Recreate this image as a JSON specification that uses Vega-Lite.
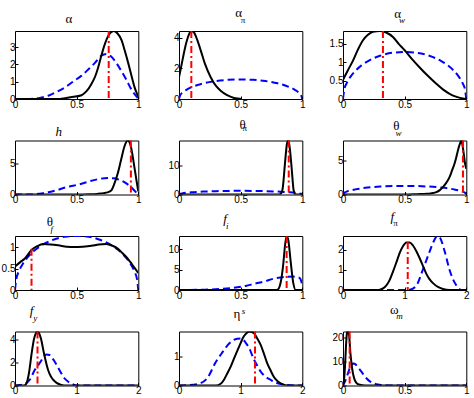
{
"$schema": "https://vega.github.io/schema/vega-lite/v6.json",
"background": "white",
"padding": {"left": 0, "top": 6, "right": 0, "bottom": 0},
"autosize": {"type": "pad"},
"config": {
 "view": {"stroke": "#000", "strokeWidth": 1},
 "axis": {"domain": false, "grid": false, "labelFont": "Liberation Sans", "labelFontSize": 10, "labelColor": "black", "tickColor": "black", "tickSize": -3, "labelPadding": 3, "labelFlush": false, "labelOverlap": false, "title": null},
 "title": {"font": "Liberation Serif", "fontSize": 13, "fontWeight": "normal", "color": "black", "subtitleFont": "Liberation Serif", "subtitleFontSize": 9, "subtitleFontWeight": "normal", "subtitleColor": "black", "anchor": "middle"}
},
"datasets": {
 "modes": [
  {"p": "a", "x": 0.76, "top": 3.93},
  {"p": "api", "x": 0.1, "top": 4.43},
  {"p": "aw", "x": 0.324, "top": 1.84},
  {"p": "h", "x": 0.94, "top": 8.7},
  {"p": "tpi", "x": 0.89, "top": 18.8},
  {"p": "tw", "x": 0.973, "top": 8.0},
  {"p": "tf", "x": 0.134, "top": 0.97},
  {"p": "fi", "x": 0.873, "top": 13.3},
  {"p": "fpi", "x": 1.05, "top": 2.37},
  {"p": "fy", "x": 0.365, "top": 4.7},
  {"p": "eta", "x": 1.233, "top": 1.86},
  {"p": "om", "x": 0.054, "top": 22.3}
 ],
 "curves": [
  {"p":"a","s":"pr","x":0,"y":0},{"p":"a","s":"pr","x":0.1,"y":0},{"p":"a","s":"pr","x":0.15,"y":0.02},{"p":"a","s":"pr","x":0.2,"y":0.06},{"p":"a","s":"pr","x":0.27,"y":0.19},{"p":"a","s":"pr","x":0.34,"y":0.42},{"p":"a","s":"pr","x":0.405,"y":0.67},{"p":"a","s":"pr","x":0.47,"y":1.0},{"p":"a","s":"pr","x":0.54,"y":1.35},{"p":"a","s":"pr","x":0.6,"y":1.75},{"p":"a","s":"pr","x":0.65,"y":2.1},{"p":"a","s":"pr","x":0.7,"y":2.5},{"p":"a","s":"pr","x":0.74,"y":2.6},{"p":"a","s":"pr","x":0.78,"y":2.45},{"p":"a","s":"pr","x":0.82,"y":2.1},{"p":"a","s":"pr","x":0.86,"y":1.65},{"p":"a","s":"pr","x":0.9,"y":1.15},{"p":"a","s":"pr","x":0.94,"y":0.6},{"p":"a","s":"pr","x":0.97,"y":0.28},{"p":"a","s":"pr","x":1,"y":0.03},
  {"p":"a","s":"po","x":0,"y":0},{"p":"a","s":"po","x":0.35,"y":0},{"p":"a","s":"po","x":0.405,"y":0.05},{"p":"a","s":"po","x":0.45,"y":0.1},{"p":"a","s":"po","x":0.54,"y":0.22},{"p":"a","s":"po","x":0.58,"y":0.45},{"p":"a","s":"po","x":0.62,"y":0.87},{"p":"a","s":"po","x":0.65,"y":1.3},{"p":"a","s":"po","x":0.675,"y":1.84},{"p":"a","s":"po","x":0.7,"y":2.5},{"p":"a","s":"po","x":0.73,"y":3.2},{"p":"a","s":"po","x":0.76,"y":3.7},{"p":"a","s":"po","x":0.8,"y":3.93},{"p":"a","s":"po","x":0.83,"y":3.8},{"p":"a","s":"po","x":0.865,"y":3.39},{"p":"a","s":"po","x":0.89,"y":2.8},{"p":"a","s":"po","x":0.92,"y":2.03},{"p":"a","s":"po","x":0.95,"y":1.2},{"p":"a","s":"po","x":0.97,"y":0.67},{"p":"a","s":"po","x":0.99,"y":0.3},{"p":"a","s":"po","x":1,"y":0.15},
  {"p":"api","s":"pr","x":0,"y":0},{"p":"api","s":"pr","x":0.01,"y":0.25},{"p":"api","s":"pr","x":0.03,"y":0.43},{"p":"api","s":"pr","x":0.06,"y":0.6},{"p":"api","s":"pr","x":0.1,"y":0.76},{"p":"api","s":"pr","x":0.15,"y":0.91},{"p":"api","s":"pr","x":0.2,"y":1.02},{"p":"api","s":"pr","x":0.3,"y":1.17},{"p":"api","s":"pr","x":0.4,"y":1.25},{"p":"api","s":"pr","x":0.5,"y":1.27},{"p":"api","s":"pr","x":0.6,"y":1.25},{"p":"api","s":"pr","x":0.7,"y":1.17},{"p":"api","s":"pr","x":0.8,"y":1.02},{"p":"api","s":"pr","x":0.85,"y":0.91},{"p":"api","s":"pr","x":0.9,"y":0.76},{"p":"api","s":"pr","x":0.94,"y":0.6},{"p":"api","s":"pr","x":0.97,"y":0.43},{"p":"api","s":"pr","x":0.99,"y":0.25},{"p":"api","s":"pr","x":1,"y":0},
  {"p":"api","s":"po","x":0,"y":1.42},{"p":"api","s":"po","x":0.02,"y":2.2},{"p":"api","s":"po","x":0.04,"y":3.0},{"p":"api","s":"po","x":0.06,"y":3.7},{"p":"api","s":"po","x":0.08,"y":4.2},{"p":"api","s":"po","x":0.1,"y":4.43},{"p":"api","s":"po","x":0.12,"y":4.35},{"p":"api","s":"po","x":0.15,"y":3.8},{"p":"api","s":"po","x":0.176,"y":3.17},{"p":"api","s":"po","x":0.21,"y":2.3},{"p":"api","s":"po","x":0.257,"y":1.42},{"p":"api","s":"po","x":0.3,"y":0.85},{"p":"api","s":"po","x":0.338,"y":0.54},{"p":"api","s":"po","x":0.39,"y":0.25},{"p":"api","s":"po","x":0.446,"y":0.07},{"p":"api","s":"po","x":0.51,"y":0},
  {"p":"aw","s":"pr","x":0,"y":0},{"p":"aw","s":"pr","x":0.01,"y":0.25},{"p":"aw","s":"pr","x":0.03,"y":0.43},{"p":"aw","s":"pr","x":0.06,"y":0.6},{"p":"aw","s":"pr","x":0.1,"y":0.76},{"p":"aw","s":"pr","x":0.15,"y":0.91},{"p":"aw","s":"pr","x":0.2,"y":1.02},{"p":"aw","s":"pr","x":0.3,"y":1.17},{"p":"aw","s":"pr","x":0.4,"y":1.25},{"p":"aw","s":"pr","x":0.5,"y":1.27},{"p":"aw","s":"pr","x":0.6,"y":1.25},{"p":"aw","s":"pr","x":0.7,"y":1.17},{"p":"aw","s":"pr","x":0.8,"y":1.02},{"p":"aw","s":"pr","x":0.85,"y":0.91},{"p":"aw","s":"pr","x":0.9,"y":0.76},{"p":"aw","s":"pr","x":0.94,"y":0.6},{"p":"aw","s":"pr","x":0.97,"y":0.43},{"p":"aw","s":"pr","x":0.99,"y":0.25},{"p":"aw","s":"pr","x":1,"y":0},
  {"p":"aw","s":"po","x":0,"y":0.52},{"p":"aw","s":"po","x":0.04,"y":0.78},{"p":"aw","s":"po","x":0.081,"y":1.04},{"p":"aw","s":"po","x":0.12,"y":1.33},{"p":"aw","s":"po","x":0.162,"y":1.59},{"p":"aw","s":"po","x":0.2,"y":1.73},{"p":"aw","s":"po","x":0.243,"y":1.82},{"p":"aw","s":"po","x":0.3,"y":1.84},{"p":"aw","s":"po","x":0.35,"y":1.8},{"p":"aw","s":"po","x":0.405,"y":1.68},{"p":"aw","s":"po","x":0.45,"y":1.5},{"p":"aw","s":"po","x":0.5,"y":1.32},{"p":"aw","s":"po","x":0.56,"y":1.08},{"p":"aw","s":"po","x":0.62,"y":0.86},{"p":"aw","s":"po","x":0.69,"y":0.62},{"p":"aw","s":"po","x":0.757,"y":0.41},{"p":"aw","s":"po","x":0.81,"y":0.26},{"p":"aw","s":"po","x":0.865,"y":0.14},{"p":"aw","s":"po","x":0.91,"y":0.07},{"p":"aw","s":"po","x":0.95,"y":0.03},{"p":"aw","s":"po","x":1,"y":0},
  {"p":"h","s":"pr","x":0,"y":0},{"p":"h","s":"pr","x":0.135,"y":0},{"p":"h","s":"pr","x":0.2,"y":0.12},{"p":"h","s":"pr","x":0.27,"y":0.37},{"p":"h","s":"pr","x":0.34,"y":0.7},{"p":"h","s":"pr","x":0.4,"y":1.1},{"p":"h","s":"pr","x":0.47,"y":1.4},{"p":"h","s":"pr","x":0.54,"y":1.74},{"p":"h","s":"pr","x":0.6,"y":2.1},{"p":"h","s":"pr","x":0.67,"y":2.45},{"p":"h","s":"pr","x":0.75,"y":2.66},{"p":"h","s":"pr","x":0.8,"y":2.6},{"p":"h","s":"pr","x":0.833,"y":2.45},{"p":"h","s":"pr","x":0.887,"y":2.0},{"p":"h","s":"pr","x":0.94,"y":1.2},{"p":"h","s":"pr","x":0.97,"y":0.6},{"p":"h","s":"pr","x":0.995,"y":0.1},{"p":"h","s":"pr","x":1,"y":0},
  {"p":"h","s":"po","x":0,"y":0},{"p":"h","s":"po","x":0.5,"y":0},{"p":"h","s":"po","x":0.6,"y":0.03},{"p":"h","s":"po","x":0.67,"y":0.1},{"p":"h","s":"po","x":0.72,"y":0.22},{"p":"h","s":"po","x":0.75,"y":0.35},{"p":"h","s":"po","x":0.78,"y":0.65},{"p":"h","s":"po","x":0.806,"y":1.74},{"p":"h","s":"po","x":0.833,"y":3.37},{"p":"h","s":"po","x":0.86,"y":5.55},{"p":"h","s":"po","x":0.887,"y":7.7},{"p":"h","s":"po","x":0.914,"y":8.7},{"p":"h","s":"po","x":0.94,"y":7.7},{"p":"h","s":"po","x":0.968,"y":4.45},{"p":"h","s":"po","x":0.985,"y":2.3},{"p":"h","s":"po","x":1,"y":0.5},
  {"p":"tpi","s":"pr","x":0,"y":0},{"p":"tpi","s":"pr","x":0.01,"y":0.25},{"p":"tpi","s":"pr","x":0.03,"y":0.43},{"p":"tpi","s":"pr","x":0.06,"y":0.6},{"p":"tpi","s":"pr","x":0.1,"y":0.76},{"p":"tpi","s":"pr","x":0.15,"y":0.91},{"p":"tpi","s":"pr","x":0.2,"y":1.02},{"p":"tpi","s":"pr","x":0.3,"y":1.17},{"p":"tpi","s":"pr","x":0.4,"y":1.25},{"p":"tpi","s":"pr","x":0.5,"y":1.27},{"p":"tpi","s":"pr","x":0.6,"y":1.25},{"p":"tpi","s":"pr","x":0.7,"y":1.17},{"p":"tpi","s":"pr","x":0.8,"y":1.02},{"p":"tpi","s":"pr","x":0.85,"y":0.91},{"p":"tpi","s":"pr","x":0.9,"y":0.76},{"p":"tpi","s":"pr","x":0.94,"y":0.6},{"p":"tpi","s":"pr","x":0.97,"y":0.43},{"p":"tpi","s":"pr","x":0.99,"y":0.25},{"p":"tpi","s":"pr","x":1,"y":0},
  {"p":"tpi","s":"po","x":0,"y":0},{"p":"tpi","s":"po","x":0.8,"y":0},{"p":"tpi","s":"po","x":0.82,"y":0.1},{"p":"tpi","s":"po","x":0.838,"y":1.4},{"p":"tpi","s":"po","x":0.847,"y":4.5},{"p":"tpi","s":"po","x":0.857,"y":9.6},{"p":"tpi","s":"po","x":0.866,"y":14},{"p":"tpi","s":"po","x":0.875,"y":17.5},{"p":"tpi","s":"po","x":0.884,"y":18.8},{"p":"tpi","s":"po","x":0.893,"y":17.8},{"p":"tpi","s":"po","x":0.9,"y":15.5},{"p":"tpi","s":"po","x":0.908,"y":12},{"p":"tpi","s":"po","x":0.915,"y":8.5},{"p":"tpi","s":"po","x":0.93,"y":1.4},{"p":"tpi","s":"po","x":0.945,"y":0},{"p":"tpi","s":"po","x":1,"y":0},
  {"p":"tw","s":"pr","x":0,"y":0},{"p":"tw","s":"pr","x":0.01,"y":0.25},{"p":"tw","s":"pr","x":0.03,"y":0.43},{"p":"tw","s":"pr","x":0.06,"y":0.6},{"p":"tw","s":"pr","x":0.1,"y":0.76},{"p":"tw","s":"pr","x":0.15,"y":0.91},{"p":"tw","s":"pr","x":0.2,"y":1.02},{"p":"tw","s":"pr","x":0.3,"y":1.17},{"p":"tw","s":"pr","x":0.4,"y":1.25},{"p":"tw","s":"pr","x":0.5,"y":1.27},{"p":"tw","s":"pr","x":0.6,"y":1.25},{"p":"tw","s":"pr","x":0.7,"y":1.17},{"p":"tw","s":"pr","x":0.8,"y":1.02},{"p":"tw","s":"pr","x":0.85,"y":0.91},{"p":"tw","s":"pr","x":0.9,"y":0.76},{"p":"tw","s":"pr","x":0.94,"y":0.6},{"p":"tw","s":"pr","x":0.97,"y":0.43},{"p":"tw","s":"pr","x":0.99,"y":0.25},{"p":"tw","s":"pr","x":1,"y":0},
  {"p":"tw","s":"po","x":0,"y":0},{"p":"tw","s":"po","x":0.5,"y":0},{"p":"tw","s":"po","x":0.6,"y":0.05},{"p":"tw","s":"po","x":0.68,"y":0.1},{"p":"tw","s":"po","x":0.72,"y":0.2},{"p":"tw","s":"po","x":0.757,"y":0.35},{"p":"tw","s":"po","x":0.785,"y":0.65},{"p":"tw","s":"po","x":0.81,"y":1.1},{"p":"tw","s":"po","x":0.84,"y":1.8},{"p":"tw","s":"po","x":0.865,"y":2.6},{"p":"tw","s":"po","x":0.885,"y":3.6},{"p":"tw","s":"po","x":0.905,"y":4.6},{"p":"tw","s":"po","x":0.92,"y":5.6},{"p":"tw","s":"po","x":0.933,"y":6.6},{"p":"tw","s":"po","x":0.95,"y":7.6},{"p":"tw","s":"po","x":0.96,"y":8.0},{"p":"tw","s":"po","x":0.975,"y":6.6},{"p":"tw","s":"po","x":0.99,"y":4.6},{"p":"tw","s":"po","x":1,"y":3.8},
  {"p":"tf","s":"pr","x":0,"y":0},{"p":"tf","s":"pr","x":0.01,"y":0.25},{"p":"tf","s":"pr","x":0.03,"y":0.43},{"p":"tf","s":"pr","x":0.06,"y":0.6},{"p":"tf","s":"pr","x":0.1,"y":0.76},{"p":"tf","s":"pr","x":0.15,"y":0.91},{"p":"tf","s":"pr","x":0.2,"y":1.02},{"p":"tf","s":"pr","x":0.3,"y":1.17},{"p":"tf","s":"pr","x":0.4,"y":1.25},{"p":"tf","s":"pr","x":0.5,"y":1.27},{"p":"tf","s":"pr","x":0.6,"y":1.25},{"p":"tf","s":"pr","x":0.7,"y":1.17},{"p":"tf","s":"pr","x":0.8,"y":1.02},{"p":"tf","s":"pr","x":0.85,"y":0.91},{"p":"tf","s":"pr","x":0.9,"y":0.76},{"p":"tf","s":"pr","x":0.94,"y":0.6},{"p":"tf","s":"pr","x":0.97,"y":0.43},{"p":"tf","s":"pr","x":0.99,"y":0.25},{"p":"tf","s":"pr","x":1,"y":0},
  {"p":"tf","s":"po","x":0,"y":0.55},{"p":"tf","s":"po","x":0.04,"y":0.65},{"p":"tf","s":"po","x":0.08,"y":0.74},{"p":"tf","s":"po","x":0.134,"y":0.94},{"p":"tf","s":"po","x":0.18,"y":1.03},{"p":"tf","s":"po","x":0.228,"y":1.08},{"p":"tf","s":"po","x":0.29,"y":1.07},{"p":"tf","s":"po","x":0.35,"y":1.05},{"p":"tf","s":"po","x":0.42,"y":1.02},{"p":"tf","s":"po","x":0.48,"y":1.01},{"p":"tf","s":"po","x":0.55,"y":1.02},{"p":"tf","s":"po","x":0.62,"y":1.04},{"p":"tf","s":"po","x":0.68,"y":1.07},{"p":"tf","s":"po","x":0.74,"y":1.08},{"p":"tf","s":"po","x":0.79,"y":1.04},{"p":"tf","s":"po","x":0.83,"y":0.98},{"p":"tf","s":"po","x":0.87,"y":0.87},{"p":"tf","s":"po","x":0.914,"y":0.74},{"p":"tf","s":"po","x":0.95,"y":0.6},{"p":"tf","s":"po","x":1,"y":0.4},
  {"p":"fi","s":"pr","x":0,"y":0},{"p":"fi","s":"pr","x":0.054,"y":0},{"p":"fi","s":"pr","x":0.2,"y":0.08},{"p":"fi","s":"pr","x":0.338,"y":0.25},{"p":"fi","s":"pr","x":0.41,"y":0.42},{"p":"fi","s":"pr","x":0.473,"y":0.65},{"p":"fi","s":"pr","x":0.54,"y":1.0},{"p":"fi","s":"pr","x":0.608,"y":1.5},{"p":"fi","s":"pr","x":0.69,"y":2.1},{"p":"fi","s":"pr","x":0.77,"y":2.8},{"p":"fi","s":"pr","x":0.85,"y":3.2},{"p":"fi","s":"pr","x":0.93,"y":3.3},{"p":"fi","s":"pr","x":0.97,"y":3.1},{"p":"fi","s":"pr","x":0.985,"y":2.7},{"p":"fi","s":"pr","x":1,"y":1.2},
  {"p":"fi","s":"po","x":0,"y":0},{"p":"fi","s":"po","x":0.78,"y":0},{"p":"fi","s":"po","x":0.8,"y":0.1},{"p":"fi","s":"po","x":0.825,"y":1.9},{"p":"fi","s":"po","x":0.846,"y":6.5},{"p":"fi","s":"po","x":0.86,"y":11.0},{"p":"fi","s":"po","x":0.873,"y":13.3},{"p":"fi","s":"po","x":0.887,"y":12.2},{"p":"fi","s":"po","x":0.906,"y":6.9},{"p":"fi","s":"po","x":0.927,"y":1.7},{"p":"fi","s":"po","x":0.946,"y":0},{"p":"fi","s":"po","x":1,"y":0},
  {"p":"fpi","s":"pr","x":0,"y":0},{"p":"fpi","s":"pr","x":1.0,"y":0},{"p":"fpi","s":"pr","x":1.08,"y":0.01},{"p":"fpi","s":"pr","x":1.19,"y":0.22},{"p":"fpi","s":"pr","x":1.3,"y":1.05},{"p":"fpi","s":"pr","x":1.405,"y":1.9},{"p":"fpi","s":"pr","x":1.47,"y":2.4},{"p":"fpi","s":"pr","x":1.53,"y":2.67},{"p":"fpi","s":"pr","x":1.57,"y":2.6},{"p":"fpi","s":"pr","x":1.65,"y":1.9},{"p":"fpi","s":"pr","x":1.73,"y":0.98},{"p":"fpi","s":"pr","x":1.84,"y":0.22},{"p":"fpi","s":"pr","x":1.92,"y":0},{"p":"fpi","s":"pr","x":2,"y":0},
  {"p":"fpi","s":"po","x":0,"y":0},{"p":"fpi","s":"po","x":0.55,"y":0},{"p":"fpi","s":"po","x":0.6,"y":0.02},{"p":"fpi","s":"po","x":0.65,"y":0.08},{"p":"fpi","s":"po","x":0.7,"y":0.22},{"p":"fpi","s":"po","x":0.75,"y":0.45},{"p":"fpi","s":"po","x":0.81,"y":0.9},{"p":"fpi","s":"po","x":0.87,"y":1.4},{"p":"fpi","s":"po","x":0.92,"y":1.83},{"p":"fpi","s":"po","x":0.97,"y":2.15},{"p":"fpi","s":"po","x":1.03,"y":2.35},{"p":"fpi","s":"po","x":1.08,"y":2.35},{"p":"fpi","s":"po","x":1.135,"y":2.2},{"p":"fpi","s":"po","x":1.19,"y":1.92},{"p":"fpi","s":"po","x":1.244,"y":1.57},{"p":"fpi","s":"po","x":1.3,"y":1.17},{"p":"fpi","s":"po","x":1.35,"y":0.81},{"p":"fpi","s":"po","x":1.4,"y":0.55},{"p":"fpi","s":"po","x":1.46,"y":0.34},{"p":"fpi","s":"po","x":1.54,"y":0.15},{"p":"fpi","s":"po","x":1.62,"y":0.05},{"p":"fpi","s":"po","x":1.73,"y":0},{"p":"fpi","s":"po","x":2,"y":0},
  {"p":"fy","s":"pr","x":0,"y":0},{"p":"fy","s":"pr","x":0.05,"y":0.03},{"p":"fy","s":"pr","x":0.16,"y":0.15},{"p":"fy","s":"pr","x":0.24,"y":0.5},{"p":"fy","s":"pr","x":0.32,"y":1.35},{"p":"fy","s":"pr","x":0.38,"y":1.8},{"p":"fy","s":"pr","x":0.43,"y":2.2},{"p":"fy","s":"pr","x":0.47,"y":2.55},{"p":"fy","s":"pr","x":0.51,"y":2.7},{"p":"fy","s":"pr","x":0.56,"y":2.65},{"p":"fy","s":"pr","x":0.6,"y":2.4},{"p":"fy","s":"pr","x":0.645,"y":2.07},{"p":"fy","s":"pr","x":0.7,"y":1.55},{"p":"fy","s":"pr","x":0.75,"y":1.07},{"p":"fy","s":"pr","x":0.8,"y":0.65},{"p":"fy","s":"pr","x":0.86,"y":0.35},{"p":"fy","s":"pr","x":0.93,"y":0.12},{"p":"fy","s":"pr","x":1.0,"y":0},{"p":"fy","s":"pr","x":2,"y":0},
  {"p":"fy","s":"po","x":0,"y":0},{"p":"fy","s":"po","x":0.15,"y":0},{"p":"fy","s":"po","x":0.187,"y":0.2},{"p":"fy","s":"po","x":0.226,"y":1.07},{"p":"fy","s":"po","x":0.27,"y":2.8},{"p":"fy","s":"po","x":0.31,"y":4.1},{"p":"fy","s":"po","x":0.34,"y":4.55},{"p":"fy","s":"po","x":0.365,"y":4.7},{"p":"fy","s":"po","x":0.39,"y":4.55},{"p":"fy","s":"po","x":0.42,"y":4.1},{"p":"fy","s":"po","x":0.47,"y":2.8},{"p":"fy","s":"po","x":0.537,"y":1.35},{"p":"fy","s":"po","x":0.58,"y":0.8},{"p":"fy","s":"po","x":0.62,"y":0.5},{"p":"fy","s":"po","x":0.67,"y":0.25},{"p":"fy","s":"po","x":0.726,"y":0.1},{"p":"fy","s":"po","x":0.8,"y":0},{"p":"fy","s":"po","x":2,"y":0},
  {"p":"eta","s":"pr","x":0,"y":0},{"p":"eta","s":"pr","x":0.3,"y":0.05},{"p":"eta","s":"pr","x":0.46,"y":0.26},{"p":"eta","s":"pr","x":0.595,"y":0.8},{"p":"eta","s":"pr","x":0.7,"y":1.13},{"p":"eta","s":"pr","x":0.81,"y":1.44},{"p":"eta","s":"pr","x":0.88,"y":1.56},{"p":"eta","s":"pr","x":0.946,"y":1.61},{"p":"eta","s":"pr","x":1.0,"y":1.62},{"p":"eta","s":"pr","x":1.04,"y":1.58},{"p":"eta","s":"pr","x":1.08,"y":1.48},{"p":"eta","s":"pr","x":1.135,"y":1.3},{"p":"eta","s":"pr","x":1.217,"y":0.89},{"p":"eta","s":"pr","x":1.27,"y":0.68},{"p":"eta","s":"pr","x":1.325,"y":0.48},{"p":"eta","s":"pr","x":1.4,"y":0.31},{"p":"eta","s":"pr","x":1.49,"y":0.19},{"p":"eta","s":"pr","x":1.57,"y":0.1},{"p":"eta","s":"pr","x":1.65,"y":0.05},{"p":"eta","s":"pr","x":1.87,"y":0},{"p":"eta","s":"pr","x":2,"y":0},
  {"p":"eta","s":"po","x":0,"y":0},{"p":"eta","s":"po","x":0.6,"y":0},{"p":"eta","s":"po","x":0.676,"y":0.06},{"p":"eta","s":"po","x":0.73,"y":0.2},{"p":"eta","s":"po","x":0.784,"y":0.42},{"p":"eta","s":"po","x":0.84,"y":0.66},{"p":"eta","s":"po","x":0.89,"y":0.92},{"p":"eta","s":"po","x":0.95,"y":1.22},{"p":"eta","s":"po","x":1.0,"y":1.46},{"p":"eta","s":"po","x":1.04,"y":1.65},{"p":"eta","s":"po","x":1.08,"y":1.77},{"p":"eta","s":"po","x":1.15,"y":1.86},{"p":"eta","s":"po","x":1.217,"y":1.8},{"p":"eta","s":"po","x":1.27,"y":1.62},{"p":"eta","s":"po","x":1.325,"y":1.4},{"p":"eta","s":"po","x":1.38,"y":1.08},{"p":"eta","s":"po","x":1.43,"y":0.77},{"p":"eta","s":"po","x":1.49,"y":0.5},{"p":"eta","s":"po","x":1.54,"y":0.29},{"p":"eta","s":"po","x":1.6,"y":0.15},{"p":"eta","s":"po","x":1.676,"y":0.05},{"p":"eta","s":"po","x":1.76,"y":0},{"p":"eta","s":"po","x":2,"y":0},
  {"p":"om","s":"pr","x":0,"y":0},{"p":"om","s":"pr","x":0.022,"y":2.3},{"p":"om","s":"pr","x":0.049,"y":6.4},{"p":"om","s":"pr","x":0.07,"y":8.6},{"p":"om","s":"pr","x":0.081,"y":9.1},{"p":"om","s":"pr","x":0.095,"y":9.0},{"p":"om","s":"pr","x":0.108,"y":8.4},{"p":"om","s":"pr","x":0.13,"y":7.0},{"p":"om","s":"pr","x":0.149,"y":5.7},{"p":"om","s":"pr","x":0.17,"y":4.2},{"p":"om","s":"pr","x":0.19,"y":3.0},{"p":"om","s":"pr","x":0.215,"y":1.8},{"p":"om","s":"pr","x":0.243,"y":0.95},{"p":"om","s":"pr","x":0.27,"y":0.55},{"p":"om","s":"pr","x":0.297,"y":0.3},{"p":"om","s":"pr","x":0.34,"y":0.1},{"p":"om","s":"pr","x":0.38,"y":0},{"p":"om","s":"pr","x":1,"y":0},
  {"p":"om","s":"po","x":0,"y":0},{"p":"om","s":"po","x":0.005,"y":1},{"p":"om","s":"po","x":0.016,"y":7.7},{"p":"om","s":"po","x":0.024,"y":16},{"p":"om","s":"po","x":0.032,"y":21.5},{"p":"om","s":"po","x":0.038,"y":22.3},{"p":"om","s":"po","x":0.049,"y":21},{"p":"om","s":"po","x":0.059,"y":14},{"p":"om","s":"po","x":0.067,"y":10},{"p":"om","s":"po","x":0.076,"y":6.4},{"p":"om","s":"po","x":0.085,"y":4},{"p":"om","s":"po","x":0.095,"y":2.3},{"p":"om","s":"po","x":0.11,"y":1.0},{"p":"om","s":"po","x":0.135,"y":0.3},{"p":"om","s":"po","x":0.18,"y":0},{"p":"om","s":"po","x":1,"y":0}
 ]
},
"columns": 3,
"spacing": {"row": 41.5, "column": 40},
"bounds": "flush",
"align": "each",
"concat": [
  {"width": 123.3, "height": 68,
   "title": {"text": "α", "dx": -7.7, "offset": 4},
   "encoding": {"x": {"field": "x", "type": "quantitative", "scale": {"domain": [0, 1], "nice": false, "zero": false}, "axis": {"values": [0, 0.5, 1], "format": "~r"}}, "y": {"field": "y", "type": "quantitative", "scale": {"domain": [0, 3.93], "nice": false}, "axis": {"values": [0, 1, 2, 3], "format": "~r"}}},
   "layer": [
    {"data": {"name": "curves"}, "transform": [{"filter": "datum.p==='a' && datum.s==='pr'"}], "mark": {"type": "line", "color": "#0000ff", "strokeWidth": 2, "strokeDash": [7, 4], "interpolate": "monotone", "clip": true}, "encoding": {}},
    {"data": {"name": "curves"}, "transform": [{"filter": "datum.p==='a' && datum.s==='po'"}], "mark": {"type": "line", "color": "#000000", "strokeWidth": 2, "interpolate": "monotone", "clip": true}, "encoding": {}},
    {"data": {"name": "modes"}, "transform": [{"filter": "datum.p==='a'"}], "mark": {"type": "rule", "color": "#ff0000", "strokeWidth": 2, "strokeDash": [7, 3, 2, 3]}, "encoding": {"y": {"field": "top", "type": "quantitative"}, "y2": {"datum": 0}}}
   ]},
  {"width": 123.3, "height": 68,
   "title": {"text": "α", "subtitle": "\u2800\u2009π", "dx": -2.1, "offset": 5.5, "subtitlePadding": -4.5},
   "encoding": {"x": {"field": "x", "type": "quantitative", "scale": {"domain": [0, 1], "nice": false, "zero": false}, "axis": {"values": [0, 0.5, 1], "format": "~r"}}, "y": {"field": "y", "type": "quantitative", "scale": {"domain": [0, 4.43], "nice": false}, "axis": {"values": [0, 2, 4], "format": "~r"}}},
   "layer": [
    {"data": {"name": "curves"}, "transform": [{"filter": "datum.p==='api' && datum.s==='pr'"}], "mark": {"type": "line", "color": "#0000ff", "strokeWidth": 2, "strokeDash": [7, 4], "interpolate": "monotone", "clip": true}, "encoding": {}},
    {"data": {"name": "curves"}, "transform": [{"filter": "datum.p==='api' && datum.s==='po'"}], "mark": {"type": "line", "color": "#000000", "strokeWidth": 2, "interpolate": "monotone", "clip": true}, "encoding": {}},
    {"data": {"name": "modes"}, "transform": [{"filter": "datum.p==='api'"}], "mark": {"type": "rule", "color": "#ff0000", "strokeWidth": 2, "strokeDash": [7, 3, 2, 3]}, "encoding": {"y": {"field": "top", "type": "quantitative"}, "y2": {"datum": 0}}}
   ]},
  {"width": 123.3, "height": 68,
   "title": {"text": "α", "subtitle": "\u2800\u2009w", "subtitleFontStyle": "italic", "dx": -7, "offset": 5, "subtitlePadding": -5},
   "encoding": {"x": {"field": "x", "type": "quantitative", "scale": {"domain": [0, 1], "nice": false, "zero": false}, "axis": {"values": [0, 0.5, 1], "format": "~r"}}, "y": {"field": "y", "type": "quantitative", "scale": {"domain": [0, 1.84], "nice": false}, "axis": {"values": [0, 0.5, 1, 1.5], "format": "~r"}}},
   "layer": [
    {"data": {"name": "curves"}, "transform": [{"filter": "datum.p==='aw' && datum.s==='pr'"}], "mark": {"type": "line", "color": "#0000ff", "strokeWidth": 2, "strokeDash": [7, 4], "interpolate": "monotone", "clip": true}, "encoding": {}},
    {"data": {"name": "curves"}, "transform": [{"filter": "datum.p==='aw' && datum.s==='po'"}], "mark": {"type": "line", "color": "#000000", "strokeWidth": 2, "interpolate": "monotone", "clip": true}, "encoding": {}},
    {"data": {"name": "modes"}, "transform": [{"filter": "datum.p==='aw'"}], "mark": {"type": "rule", "color": "#ff0000", "strokeWidth": 2, "strokeDash": [7, 3, 2, 3]}, "encoding": {"y": {"field": "top", "type": "quantitative"}, "y2": {"datum": 0}}}
   ]},
  {"width": 123.3, "height": 54,
   "title": {"text": "h", "fontStyle": "italic", "dx": -18, "offset": 0.5},
   "encoding": {"x": {"field": "x", "type": "quantitative", "scale": {"domain": [0, 1], "nice": false, "zero": false}, "axis": {"values": [0, 0.5, 1], "format": "~r"}}, "y": {"field": "y", "type": "quantitative", "scale": {"domain": [0, 8.7], "nice": false}, "axis": {"values": [0, 5], "format": "~r"}}},
   "layer": [
    {"data": {"name": "curves"}, "transform": [{"filter": "datum.p==='h' && datum.s==='pr'"}], "mark": {"type": "line", "color": "#0000ff", "strokeWidth": 2, "strokeDash": [7, 4], "interpolate": "monotone", "clip": true}, "encoding": {}},
    {"data": {"name": "curves"}, "transform": [{"filter": "datum.p==='h' && datum.s==='po'"}], "mark": {"type": "line", "color": "#000000", "strokeWidth": 2, "interpolate": "monotone", "clip": true}, "encoding": {}},
    {"data": {"name": "modes"}, "transform": [{"filter": "datum.p==='h'"}], "mark": {"type": "rule", "color": "#ff0000", "strokeWidth": 2, "strokeDash": [7, 3, 2, 3]}, "encoding": {"y": {"field": "top", "type": "quantitative"}, "y2": {"datum": 0}}}
   ]},
  {"width": 123.3, "height": 54,
   "title": {"text": "θ", "subtitle": "\u200b\u2002π", "dx": 1.9, "offset": 7, "subtitlePadding": -8.5},
   "encoding": {"x": {"field": "x", "type": "quantitative", "scale": {"domain": [0, 1], "nice": false, "zero": false}, "axis": {"values": [0, 0.5, 1], "format": "~r"}}, "y": {"field": "y", "type": "quantitative", "scale": {"domain": [0, 18.8], "nice": false}, "axis": {"values": [0, 10], "format": "~r"}}},
   "layer": [
    {"data": {"name": "curves"}, "transform": [{"filter": "datum.p==='tpi' && datum.s==='pr'"}], "mark": {"type": "line", "color": "#0000ff", "strokeWidth": 2, "strokeDash": [7, 4], "interpolate": "monotone", "clip": true}, "encoding": {}},
    {"data": {"name": "curves"}, "transform": [{"filter": "datum.p==='tpi' && datum.s==='po'"}], "mark": {"type": "line", "color": "#000000", "strokeWidth": 2, "interpolate": "monotone", "clip": true}, "encoding": {}},
    {"data": {"name": "modes"}, "transform": [{"filter": "datum.p==='tpi'"}], "mark": {"type": "rule", "color": "#ff0000", "strokeWidth": 2, "strokeDash": [7, 3, 2, 3]}, "encoding": {"y": {"field": "top", "type": "quantitative"}, "y2": {"datum": 0}}}
   ]},
  {"width": 123.3, "height": 54,
   "title": {"text": "θ", "subtitle": "\u200b\u2002w", "subtitleFontStyle": "italic", "dx": -8.4, "offset": 1.5, "subtitlePadding": -4},
   "encoding": {"x": {"field": "x", "type": "quantitative", "scale": {"domain": [0, 1], "nice": false, "zero": false}, "axis": {"values": [0, 0.5, 1], "format": "~r"}}, "y": {"field": "y", "type": "quantitative", "scale": {"domain": [0, 8.0], "nice": false}, "axis": {"values": [0, 5], "format": "~r"}}},
   "layer": [
    {"data": {"name": "curves"}, "transform": [{"filter": "datum.p==='tw' && datum.s==='pr'"}], "mark": {"type": "line", "color": "#0000ff", "strokeWidth": 2, "strokeDash": [7, 4], "interpolate": "monotone", "clip": true}, "encoding": {}},
    {"data": {"name": "curves"}, "transform": [{"filter": "datum.p==='tw' && datum.s==='po'"}], "mark": {"type": "line", "color": "#000000", "strokeWidth": 2, "interpolate": "monotone", "clip": true}, "encoding": {}},
    {"data": {"name": "modes"}, "transform": [{"filter": "datum.p==='tw'"}], "mark": {"type": "rule", "color": "#ff0000", "strokeWidth": 2, "strokeDash": [7, 3, 2, 3]}, "encoding": {"y": {"field": "top", "type": "quantitative"}, "y2": {"datum": 0}}}
   ]},
  {"width": 123.3, "height": 54,
   "title": {"text": "θ", "subtitle": "\u200b\u2009\u2009f", "subtitleFontStyle": "italic", "dx": -26.7, "offset": 2, "subtitlePadding": -3.5},
   "encoding": {"x": {"field": "x", "type": "quantitative", "scale": {"domain": [0, 1], "nice": false, "zero": false}, "axis": {"values": [0, 0.5, 1], "format": "~r"}}, "y": {"field": "y", "type": "quantitative", "scale": {"domain": [0, 1.27], "nice": false}, "axis": {"values": [0, 0.5, 1], "format": "~r"}}},
   "layer": [
    {"data": {"name": "curves"}, "transform": [{"filter": "datum.p==='tf' && datum.s==='pr'"}], "mark": {"type": "line", "color": "#0000ff", "strokeWidth": 2, "strokeDash": [7, 4], "interpolate": "monotone", "clip": true}, "encoding": {}},
    {"data": {"name": "curves"}, "transform": [{"filter": "datum.p==='tf' && datum.s==='po'"}], "mark": {"type": "line", "color": "#000000", "strokeWidth": 2, "interpolate": "monotone", "clip": true}, "encoding": {}},
    {"data": {"name": "modes"}, "transform": [{"filter": "datum.p==='tf'"}], "mark": {"type": "rule", "color": "#ff0000", "strokeWidth": 2, "strokeDash": [7, 3, 2, 3]}, "encoding": {"y": {"field": "top", "type": "quantitative"}, "y2": {"datum": 0}}}
   ]},
  {"width": 123.3, "height": 54,
   "title": {"text": "f", "fontStyle": "italic", "subtitle": "\u200b\u2002i", "subtitleFontStyle": "italic", "dx": -15.7, "offset": 4, "subtitlePadding": -3.5},
   "encoding": {"x": {"field": "x", "type": "quantitative", "scale": {"domain": [0, 1], "nice": false, "zero": false}, "axis": {"values": [0, 0.5, 1], "format": "~r"}}, "y": {"field": "y", "type": "quantitative", "scale": {"domain": [0, 13.3], "nice": false}, "axis": {"values": [0, 5, 10], "format": "~r"}}},
   "layer": [
    {"data": {"name": "curves"}, "transform": [{"filter": "datum.p==='fi' && datum.s==='pr'"}], "mark": {"type": "line", "color": "#0000ff", "strokeWidth": 2, "strokeDash": [7, 4], "interpolate": "monotone", "clip": true}, "encoding": {}},
    {"data": {"name": "curves"}, "transform": [{"filter": "datum.p==='fi' && datum.s==='po'"}], "mark": {"type": "line", "color": "#000000", "strokeWidth": 2, "interpolate": "monotone", "clip": true}, "encoding": {}},
    {"data": {"name": "modes"}, "transform": [{"filter": "datum.p==='fi'"}], "mark": {"type": "rule", "color": "#ff0000", "strokeWidth": 2, "strokeDash": [7, 3, 2, 3]}, "encoding": {"y": {"field": "top", "type": "quantitative"}, "y2": {"datum": 0}}}
   ]},
  {"width": 123.3, "height": 54,
   "title": {"text": "f", "fontStyle": "italic", "subtitle": "\u200b\u2002\u2009π", "dx": -12.4, "offset": 8, "subtitlePadding": -4.5},
   "encoding": {"x": {"field": "x", "type": "quantitative", "scale": {"domain": [0, 2], "nice": false, "zero": false}, "axis": {"values": [0, 1, 2], "format": "~r"}}, "y": {"field": "y", "type": "quantitative", "scale": {"domain": [0, 2.67], "nice": false}, "axis": {"values": [0, 1, 2], "format": "~r"}}},
   "layer": [
    {"data": {"name": "curves"}, "transform": [{"filter": "datum.p==='fpi' && datum.s==='pr'"}], "mark": {"type": "line", "color": "#0000ff", "strokeWidth": 2, "strokeDash": [7, 4], "interpolate": "monotone", "clip": true}, "encoding": {}},
    {"data": {"name": "curves"}, "transform": [{"filter": "datum.p==='fpi' && datum.s==='po'"}], "mark": {"type": "line", "color": "#000000", "strokeWidth": 2, "interpolate": "monotone", "clip": true}, "encoding": {}},
    {"data": {"name": "modes"}, "transform": [{"filter": "datum.p==='fpi'"}], "mark": {"type": "rule", "color": "#ff0000", "strokeWidth": 2, "strokeDash": [7, 3, 2, 3]}, "encoding": {"y": {"field": "top", "type": "quantitative"}, "y2": {"datum": 0}}}
   ]},
  {"width": 123.3, "height": 54,
   "title": {"text": "f", "fontStyle": "italic", "subtitle": "\u2800y", "subtitleFontStyle": "italic", "dx": -45, "offset": 8, "subtitlePadding": -4.6},
   "encoding": {"x": {"field": "x", "type": "quantitative", "scale": {"domain": [0, 2], "nice": false, "zero": false}, "axis": {"values": [0, 1, 2], "format": "~r"}}, "y": {"field": "y", "type": "quantitative", "scale": {"domain": [0, 4.7], "nice": false}, "axis": {"values": [0, 2, 4], "format": "~r"}}},
   "layer": [
    {"data": {"name": "curves"}, "transform": [{"filter": "datum.p==='fy' && datum.s==='pr'"}], "mark": {"type": "line", "color": "#0000ff", "strokeWidth": 2, "strokeDash": [7, 4], "interpolate": "monotone", "clip": true}, "encoding": {}},
    {"data": {"name": "curves"}, "transform": [{"filter": "datum.p==='fy' && datum.s==='po'"}], "mark": {"type": "line", "color": "#000000", "strokeWidth": 2, "interpolate": "monotone", "clip": true}, "encoding": {}},
    {"data": {"name": "modes"}, "transform": [{"filter": "datum.p==='fy'"}], "mark": {"type": "rule", "color": "#ff0000", "strokeWidth": 2, "strokeDash": [7, 3, 2, 3]}, "encoding": {"y": {"field": "top", "type": "quantitative"}, "y2": {"datum": 0}}}
   ]},
  {"width": 123.3, "height": 54,
   "title": {"text": "\u2800\u2002\u2009s", "fontSize": 9, "fontStyle": "italic", "subtitle": "η", "subtitleFontSize": 13, "dx": -3.7, "offset": 9.5, "subtitlePadding": -8},
   "encoding": {"x": {"field": "x", "type": "quantitative", "scale": {"domain": [0, 2], "nice": false, "zero": false}, "axis": {"values": [0, 1, 2], "format": "~r"}}, "y": {"field": "y", "type": "quantitative", "scale": {"domain": [0, 1.86], "nice": false}, "axis": {"values": [0, 1], "format": "~r"}}},
   "layer": [
    {"data": {"name": "curves"}, "transform": [{"filter": "datum.p==='eta' && datum.s==='pr'"}], "mark": {"type": "line", "color": "#0000ff", "strokeWidth": 2, "strokeDash": [7, 4], "interpolate": "monotone", "clip": true}, "encoding": {}},
    {"data": {"name": "curves"}, "transform": [{"filter": "datum.p==='eta' && datum.s==='po'"}], "mark": {"type": "line", "color": "#000000", "strokeWidth": 2, "interpolate": "monotone", "clip": true}, "encoding": {}},
    {"data": {"name": "modes"}, "transform": [{"filter": "datum.p==='eta'"}], "mark": {"type": "rule", "color": "#ff0000", "strokeWidth": 2, "strokeDash": [7, 3, 2, 3]}, "encoding": {"y": {"field": "top", "type": "quantitative"}, "y2": {"datum": 0}}}
   ]},
  {"width": 123.3, "height": 54,
   "title": {"text": "ω", "subtitle": "\u2800\u2009\u2009m", "subtitleFontStyle": "italic", "dx": -10.4, "offset": 9.7, "subtitlePadding": -5.6},
   "encoding": {"x": {"field": "x", "type": "quantitative", "scale": {"domain": [0, 1], "nice": false, "zero": false}, "axis": {"values": [0, 0.5, 1], "format": "~r"}}, "y": {"field": "y", "type": "quantitative", "scale": {"domain": [0, 22.3], "nice": false}, "axis": {"values": [0, 10, 20], "format": "~r"}}},
   "layer": [
    {"data": {"name": "curves"}, "transform": [{"filter": "datum.p==='om' && datum.s==='pr'"}], "mark": {"type": "line", "color": "#0000ff", "strokeWidth": 2, "strokeDash": [7, 4], "interpolate": "monotone", "clip": true}, "encoding": {}},
    {"data": {"name": "curves"}, "transform": [{"filter": "datum.p==='om' && datum.s==='po'"}], "mark": {"type": "line", "color": "#000000", "strokeWidth": 2, "interpolate": "monotone", "clip": true}, "encoding": {}},
    {"data": {"name": "modes"}, "transform": [{"filter": "datum.p==='om'"}], "mark": {"type": "rule", "color": "#ff0000", "strokeWidth": 2, "strokeDash": [7, 3, 2, 3]}, "encoding": {"y": {"field": "top", "type": "quantitative"}, "y2": {"datum": 0}}}
   ]}
]
}
